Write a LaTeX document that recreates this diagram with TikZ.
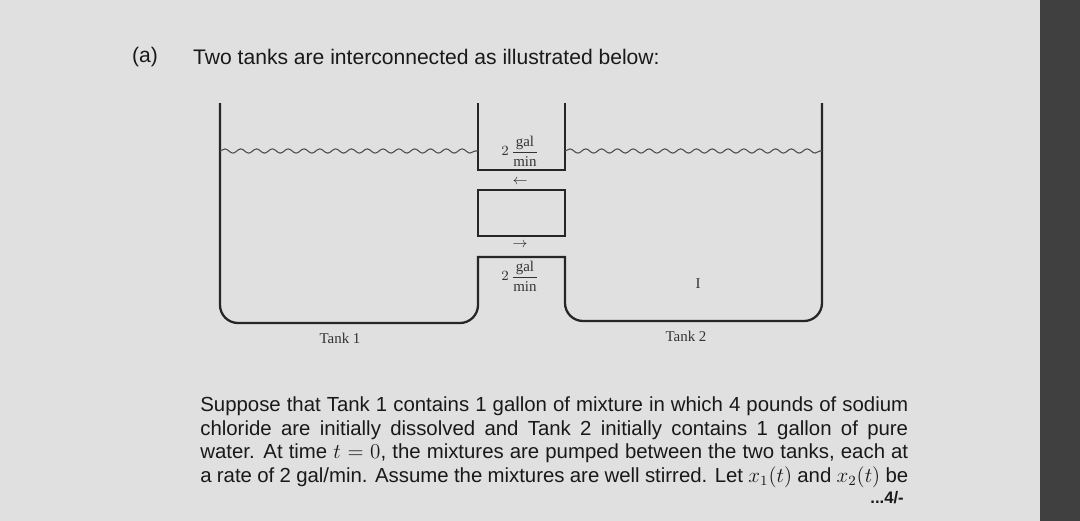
\documentclass[tikz,border=0pt]{standalone}
\usepackage{fontspec}
\setmainfont{Liberation Serif}
\newfontfamily\arialf{Liberation Sans}
\usetikzlibrary{decorations.pathmorphing}
\begin{document}
\begin{tikzpicture}[x=0.02cm,y=-0.02cm,
  wall/.style={line width=1.3pt,black!85},
  water/.style={black!70,line width=0.6pt,decorate,decoration={snake,amplitude=1.2pt,segment length=9pt}},
  sans/.style={font=\arialf\fontsize{12}{14}\selectfont,anchor=west,text=black!90},
  lab/.style={font=\fontsize{8.5}{10}\selectfont,text=black!80}]
\fill[black!12] (0,0) rectangle (1080,521);
\fill[black!75] (1040,0) rectangle (1080,521);
\useasboundingbox (0,0) rectangle (1080,521);
\node[sans] (a) at (126,57) {(a)};
\node[sans] (t) at (187,57) {Two tanks are interconnected as illustrated below:};
\draw[wall] (220,103) [rounded corners=0.36cm]-- (220,323) -- (478,323) [sharp corners]-- (478,257) -- (565,257) [rounded corners=0.36cm]-- (565,321) -- (822,321) [sharp corners]-- (822,103);
\draw[wall] (478,103) -- (478,170) -- (565,170) -- (565,103);
\draw[wall] (478,190) rectangle (565,236);
\draw[water] (220,151) -- (478,151);
\draw[water] (565,151) -- (822,151);
\node[lab] (f1) at (520,151) {$\displaystyle 2\,\frac{\mathrm{gal}}{\mathrm{min}}$};
\node[lab] (f2) at (520,276) {$\displaystyle 2\,\frac{\mathrm{gal}}{\mathrm{min}}$};
\node[lab] (l1) at (520,182) {$\leftarrow$};
\node[lab] (l2) at (520,245) {$\rightarrow$};
\node[lab] (cur) at (698,284) {I};
\node[lab] (t1) at (340,338) {Tank 1};
\node[lab] (t2) at (686,336) {Tank 2};
\node[sans,anchor=north west,text width=14.16cm,inner sep=0pt,align=justify,font=\arialf\fontsize{11.6}{13.6}\selectfont] (p) at (200,396)
{Suppose that Tank 1 contains 1 gallon of mixture in which 4 pounds of sodium chloride are initially dissolved and Tank 2 initially contains 1 gallon of pure\linebreak water. At time $t=0$, the mixtures are pumped between the two tanks, each at\linebreak a rate of 2 gal/min. Assume the mixtures are well stirred. Let $x_1(t)$ and $x_2(t)$ be};
\node[sans,anchor=east,font=\arialf\bfseries\fontsize{9.5}{11}\selectfont] (n) at (910,498) {...4/-};
\end{tikzpicture}
\end{document}
